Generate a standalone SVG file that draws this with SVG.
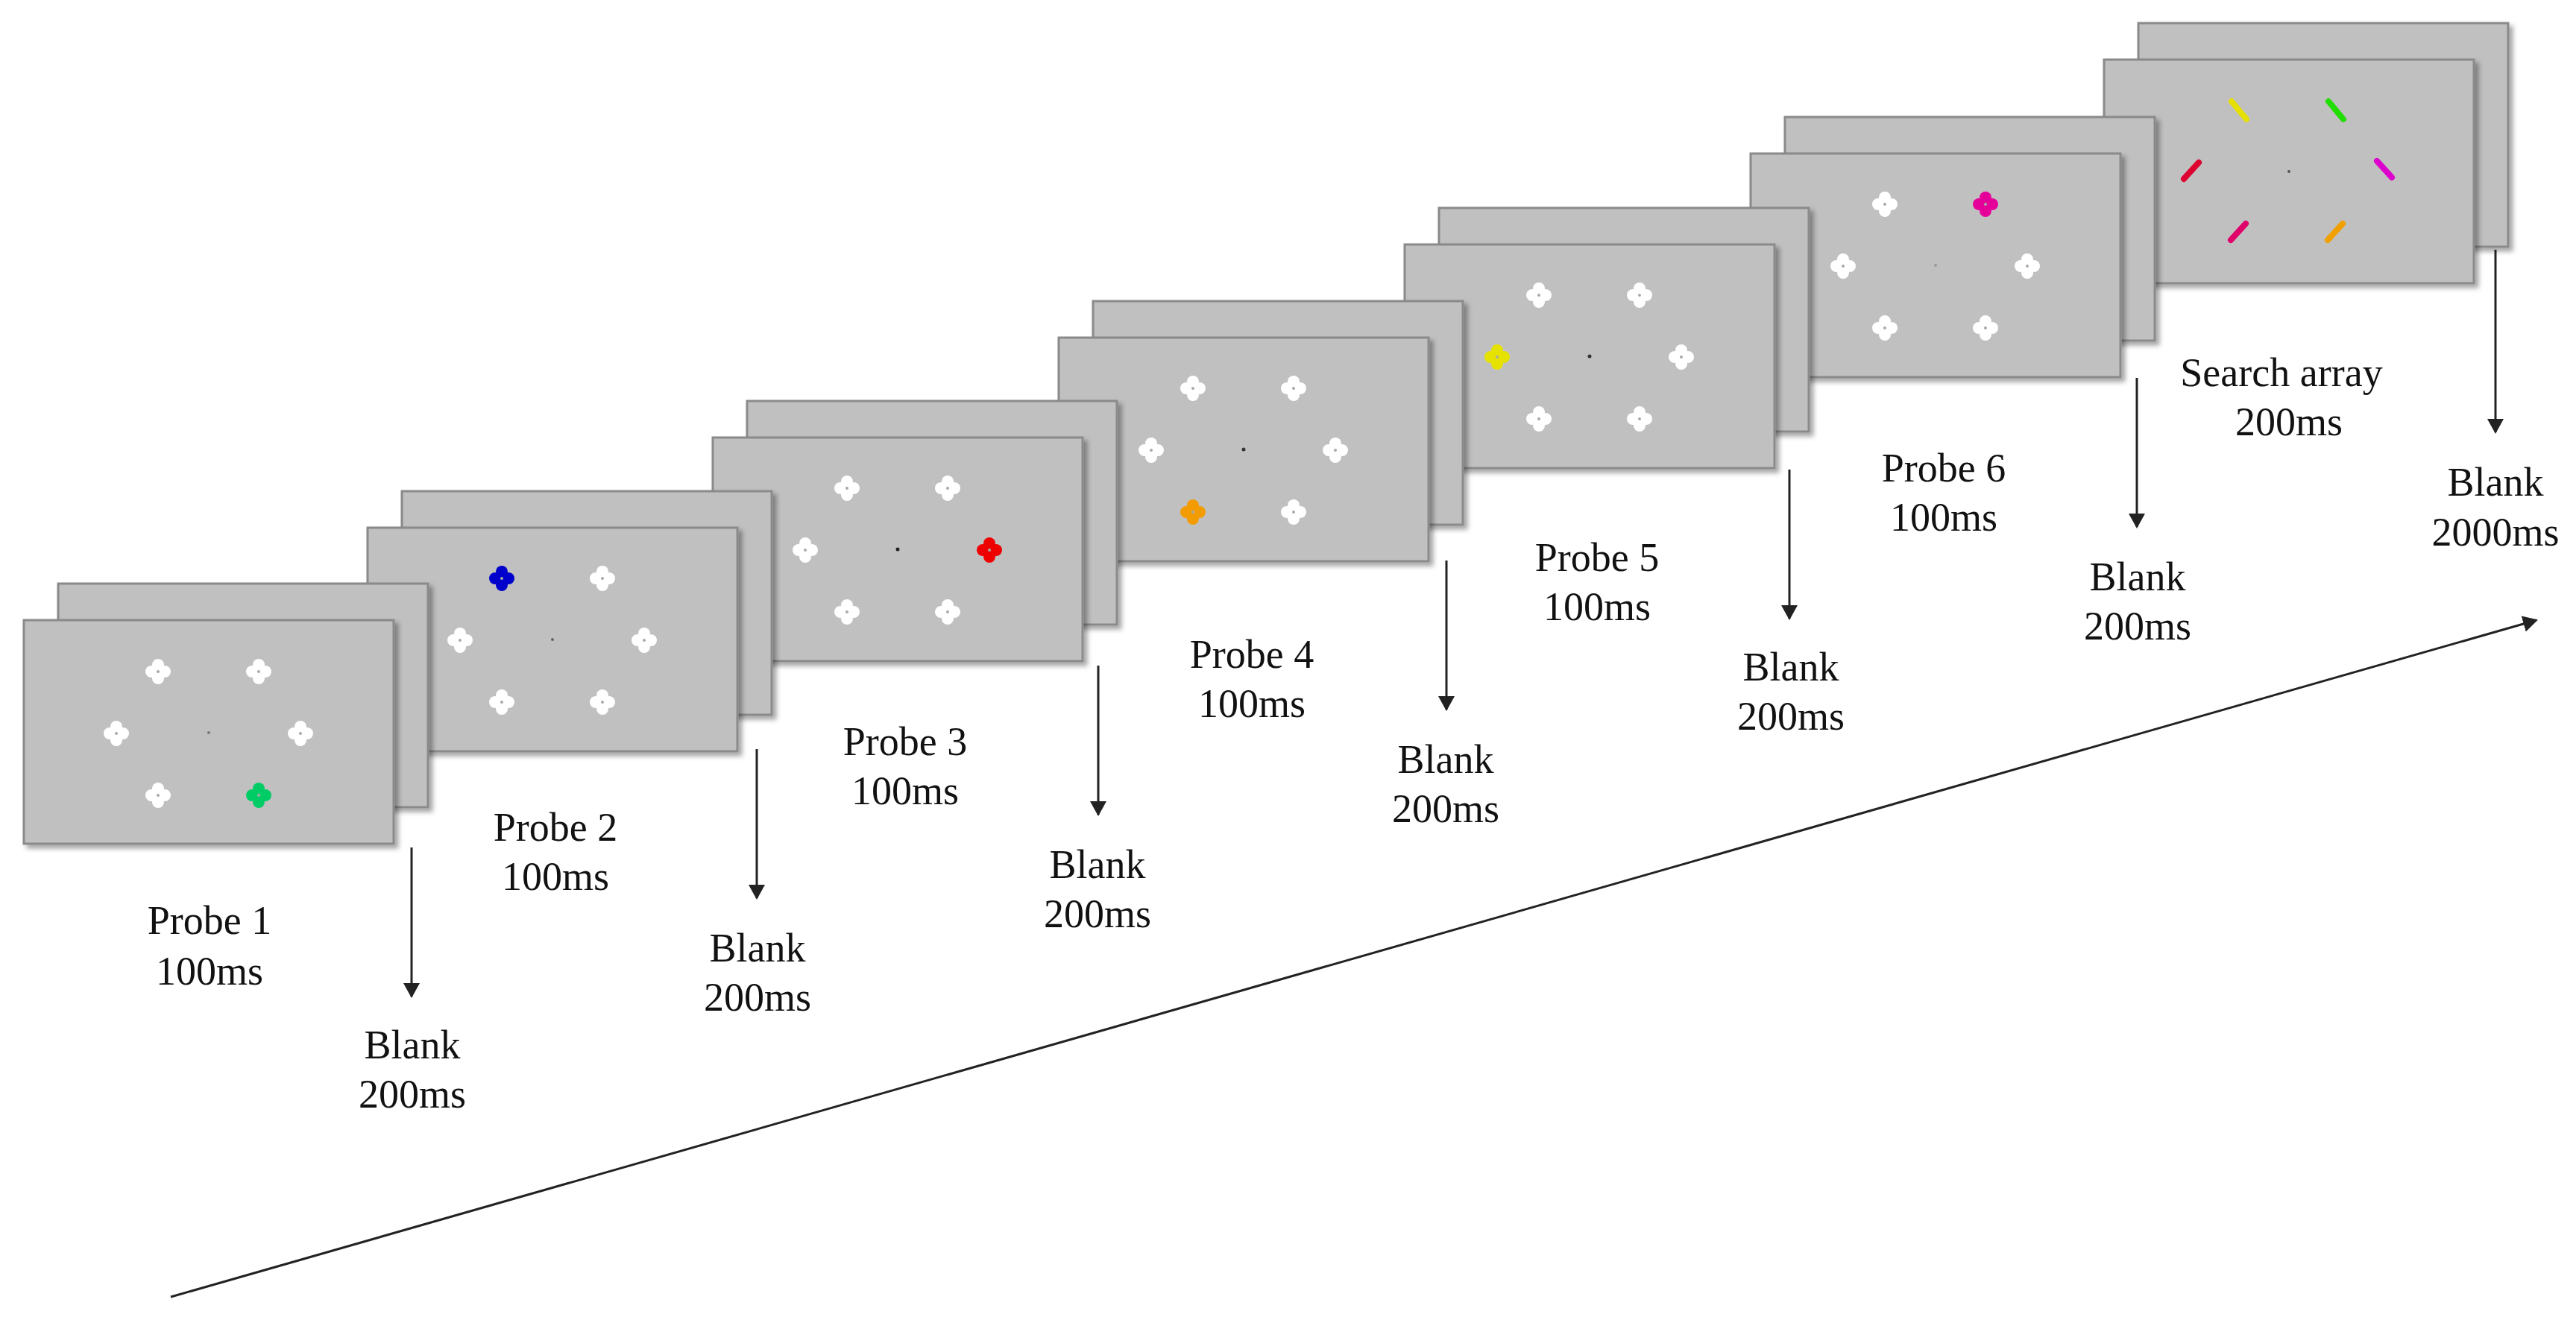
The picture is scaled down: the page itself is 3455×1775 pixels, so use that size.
<svg xmlns="http://www.w3.org/2000/svg" xmlns:xlink="http://www.w3.org/1999/xlink" width="3455" height="1775" viewBox="0 0 3455 1775">
<style>
.scr{fill:#c0c0c0;stroke:#8a8a8a;stroke-width:3;filter:url(#sh)}
.lbl{font-family:"Liberation Serif","Times New Roman",serif;font-size:54px;fill:#111;text-anchor:middle}
.arr{stroke:#222;stroke-width:3;fill:none;marker-end:url(#ah)}
.fix{fill:#555}
.bar{stroke-width:8;stroke-linecap:round;fill:none}
</style>
<defs>
<filter id="sh" x="-5%" y="-5%" width="115%" height="120%">
<feDropShadow dx="5" dy="5" stdDeviation="3" flood-color="#000" flood-opacity="0.35"/>
</filter>
<marker id="ah" markerUnits="userSpaceOnUse" viewBox="0 0 20 22" markerWidth="20" markerHeight="22" refX="18" refY="11" orient="auto">
<path d="M0,0 L20,11 L0,22 z" fill="#222"/>
</marker>
<g id="fl">
<circle cx="0" cy="-9" r="8"/>
<circle cx="0" cy="9" r="8"/>
<circle cx="-9" cy="0" r="8"/>
<circle cx="9" cy="0" r="8"/>
<circle cx="0" cy="0" r="7"/>
</g>
<circle id="dt" r="2" fill="#a8a8a8"/>
<g id="pair">
<rect class="scr" x="46" y="-49" width="496" height="300"/>
<rect class="scr" x="0" y="0" width="496" height="300"/>
</g>
</defs>
<rect width="3455" height="1775" fill="#fff"/>

<g id="search">
<use xlink:href="#pair" href="#pair" x="2822" y="80"/>
<g transform="translate(3070,230)">
<line class="bar" stroke="#e6e000" x1="-77" y1="-94" x2="-57" y2="-70"/>
<line class="bar" stroke="#22dd00" x1="53" y1="-94" x2="73" y2="-70"/>
<line class="bar" stroke="#dd0030" x1="-121" y1="-12" x2="-141" y2="10"/>
<line class="bar" stroke="#dd00cc" x1="118" y1="-14" x2="138" y2="8"/>
<line class="bar" stroke="#e0006a" x1="-58" y1="70" x2="-78" y2="92"/>
<line class="bar" stroke="#f0a000" x1="72" y1="70" x2="52" y2="92"/>
<circle class="fix" r="2" fill="#777"/>
</g>
<text class="lbl" x="3060" y="518">Search array</text>
<text class="lbl" x="3070" y="584">200ms</text>
</g>

<g id="probe6">
<use xlink:href="#pair" href="#pair" x="2348" y="206"/>
<g transform="translate(2596,356)">
<use xlink:href="#fl" href="#fl" fill="#fff" x="-68" y="-82"/><use xlink:href="#dt" href="#dt" x="-68" y="-82"/>
<use xlink:href="#fl" href="#fl" fill="#e6009a" x="67" y="-82"/><use xlink:href="#dt" href="#dt" x="67" y="-82" fill="#ff66cc"/>
<use xlink:href="#fl" href="#fl" fill="#fff" x="-124" y="1"/><use xlink:href="#dt" href="#dt" x="-124" y="1"/>
<use xlink:href="#fl" href="#fl" fill="#fff" x="123" y="1"/><use xlink:href="#dt" href="#dt" x="123" y="1"/>
<use xlink:href="#fl" href="#fl" fill="#fff" x="-68" y="84"/><use xlink:href="#dt" href="#dt" x="-68" y="84"/>
<use xlink:href="#fl" href="#fl" fill="#fff" x="67" y="84"/><use xlink:href="#dt" href="#dt" x="67" y="84"/>
<circle r="2" fill="#999"/>
</g>
<text class="lbl" x="2607" y="646">Probe 6</text>
<text class="lbl" x="2607" y="712">100ms</text>
</g>

<g id="probe5">
<use xlink:href="#pair" href="#pair" x="1884" y="328"/>
<g transform="translate(2132,478)">
<use xlink:href="#fl" href="#fl" fill="#fff" x="-68" y="-82"/><use xlink:href="#dt" href="#dt" x="-68" y="-82"/>
<use xlink:href="#fl" href="#fl" fill="#fff" x="67" y="-82"/><use xlink:href="#dt" href="#dt" x="67" y="-82"/>
<use xlink:href="#fl" href="#fl" fill="#e6e200" x="-124" y="1"/><use xlink:href="#dt" href="#dt" x="-124" y="1" fill="#d8d400"/>
<use xlink:href="#fl" href="#fl" fill="#fff" x="123" y="1"/><use xlink:href="#dt" href="#dt" x="123" y="1"/>
<use xlink:href="#fl" href="#fl" fill="#fff" x="-68" y="84"/><use xlink:href="#dt" href="#dt" x="-68" y="84"/>
<use xlink:href="#fl" href="#fl" fill="#fff" x="67" y="84"/><use xlink:href="#dt" href="#dt" x="67" y="84"/>
<circle r="2.5" fill="#333"/>
</g>
<text class="lbl" x="2142" y="766">Probe 5</text>
<text class="lbl" x="2142" y="832">100ms</text>
</g>

<g id="probe4">
<use xlink:href="#pair" href="#pair" x="1420" y="453"/>
<g transform="translate(1668,603)">
<use xlink:href="#fl" href="#fl" fill="#fff" x="-68" y="-82"/><use xlink:href="#dt" href="#dt" x="-68" y="-82"/>
<use xlink:href="#fl" href="#fl" fill="#fff" x="67" y="-82"/><use xlink:href="#dt" href="#dt" x="67" y="-82"/>
<use xlink:href="#fl" href="#fl" fill="#fff" x="-124" y="1"/><use xlink:href="#dt" href="#dt" x="-124" y="1"/>
<use xlink:href="#fl" href="#fl" fill="#fff" x="123" y="1"/><use xlink:href="#dt" href="#dt" x="123" y="1"/>
<use xlink:href="#fl" href="#fl" fill="#f39c00" x="-68" y="84"/><use xlink:href="#dt" href="#dt" x="-68" y="84" fill="#f8c060"/>
<use xlink:href="#fl" href="#fl" fill="#fff" x="67" y="84"/><use xlink:href="#dt" href="#dt" x="67" y="84"/>
<circle r="2.5" fill="#333"/>
</g>
<text class="lbl" x="1679" y="896">Probe 4</text>
<text class="lbl" x="1679" y="962">100ms</text>
</g>

<g id="probe3">
<use xlink:href="#pair" href="#pair" x="956" y="587"/>
<g transform="translate(1204,737)">
<use xlink:href="#fl" href="#fl" fill="#fff" x="-68" y="-82"/><use xlink:href="#dt" href="#dt" x="-68" y="-82"/>
<use xlink:href="#fl" href="#fl" fill="#fff" x="67" y="-82"/><use xlink:href="#dt" href="#dt" x="67" y="-82"/>
<use xlink:href="#fl" href="#fl" fill="#fff" x="-124" y="1"/><use xlink:href="#dt" href="#dt" x="-124" y="1"/>
<use xlink:href="#fl" href="#fl" fill="#ee0000" x="123" y="1"/><use xlink:href="#dt" href="#dt" x="123" y="1" fill="#ff7070"/>
<use xlink:href="#fl" href="#fl" fill="#fff" x="-68" y="84"/><use xlink:href="#dt" href="#dt" x="-68" y="84"/>
<use xlink:href="#fl" href="#fl" fill="#fff" x="67" y="84"/><use xlink:href="#dt" href="#dt" x="67" y="84"/>
<circle r="2.5" fill="#222"/>
</g>
<text class="lbl" x="1214" y="1013">Probe 3</text>
<text class="lbl" x="1214" y="1079">100ms</text>
</g>

<g id="probe2">
<use xlink:href="#pair" href="#pair" x="493" y="708"/>
<g transform="translate(741,858)">
<use xlink:href="#fl" href="#fl" fill="#0000cc" x="-68" y="-82"/><use xlink:href="#dt" href="#dt" x="-68" y="-82" fill="#6666ff"/>
<use xlink:href="#fl" href="#fl" fill="#fff" x="67" y="-82"/><use xlink:href="#dt" href="#dt" x="67" y="-82"/>
<use xlink:href="#fl" href="#fl" fill="#fff" x="-124" y="1"/><use xlink:href="#dt" href="#dt" x="-124" y="1"/>
<use xlink:href="#fl" href="#fl" fill="#fff" x="123" y="1"/><use xlink:href="#dt" href="#dt" x="123" y="1"/>
<use xlink:href="#fl" href="#fl" fill="#fff" x="-68" y="84"/><use xlink:href="#dt" href="#dt" x="-68" y="84"/>
<use xlink:href="#fl" href="#fl" fill="#fff" x="67" y="84"/><use xlink:href="#dt" href="#dt" x="67" y="84"/>
<circle r="2" fill="#666"/>
</g>
<text class="lbl" x="745" y="1128">Probe 2</text>
<text class="lbl" x="745" y="1194">100ms</text>
</g>

<g id="probe1">
<use xlink:href="#pair" href="#pair" x="32" y="832"/>
<g transform="translate(280,983)">
<use xlink:href="#fl" href="#fl" fill="#fff" x="-68" y="-82"/><use xlink:href="#dt" href="#dt" x="-68" y="-82"/>
<use xlink:href="#fl" href="#fl" fill="#fff" x="67" y="-82"/><use xlink:href="#dt" href="#dt" x="67" y="-82"/>
<use xlink:href="#fl" href="#fl" fill="#fff" x="-124" y="1"/><use xlink:href="#dt" href="#dt" x="-124" y="1"/>
<use xlink:href="#fl" href="#fl" fill="#fff" x="123" y="1"/><use xlink:href="#dt" href="#dt" x="123" y="1"/>
<use xlink:href="#fl" href="#fl" fill="#fff" x="-68" y="84"/><use xlink:href="#dt" href="#dt" x="-68" y="84"/>
<use xlink:href="#fl" href="#fl" fill="#00cc66" x="67" y="84"/><use xlink:href="#dt" href="#dt" x="67" y="84" fill="#00d870"/>
<circle r="2" fill="#777"/>
</g>
<text class="lbl" x="281" y="1253">Probe 1</text>
<text class="lbl" x="281" y="1321">100ms</text>
</g>

<g id="blank1"><text class="lbl" x="553" y="1420">Blank</text><text class="lbl" x="553" y="1486">200ms</text></g>
<g id="blank2"><text class="lbl" x="1016" y="1290">Blank</text><text class="lbl" x="1016" y="1356">200ms</text></g>
<g id="blank3"><text class="lbl" x="1472" y="1178">Blank</text><text class="lbl" x="1472" y="1244">200ms</text></g>
<g id="blank4"><text class="lbl" x="1939" y="1037">Blank</text><text class="lbl" x="1939" y="1103">200ms</text></g>
<g id="blank5"><text class="lbl" x="2402" y="913">Blank</text><text class="lbl" x="2402" y="979">200ms</text></g>
<g id="blank6"><text class="lbl" x="2867" y="792">Blank</text><text class="lbl" x="2867" y="858">200ms</text></g>
<g id="blank7"><text class="lbl" x="3347" y="665">Blank</text><text class="lbl" x="3347" y="732">2000ms</text></g>

<g id="connectors">
<line class="arr" x1="552" y1="1137" x2="552" y2="1337"/>
<line class="arr" x1="1015" y1="1005" x2="1015" y2="1205"/>
<line class="arr" x1="1473" y1="893" x2="1473" y2="1093"/>
<line class="arr" x1="1940" y1="752" x2="1940" y2="952"/>
<line class="arr" x1="2400" y1="630" x2="2400" y2="830"/>
<line class="arr" x1="2866" y1="507" x2="2866" y2="707"/>
<line class="arr" x1="3347" y1="335" x2="3347" y2="580"/>
<line class="arr" stroke="#333" stroke-width="3.5" x1="229" y1="1740" x2="3402" y2="832"/>
</g>
</svg>
